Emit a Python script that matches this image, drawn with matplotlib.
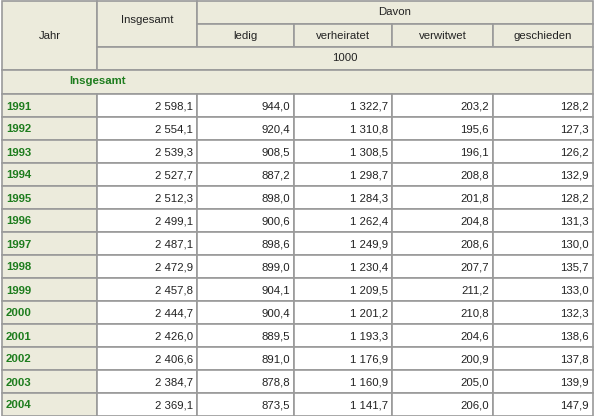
import matplotlib
matplotlib.use("Agg")
import matplotlib.pyplot as plt
from matplotlib.patches import Rectangle

years = ["1991","1992","1993","1994","1995","1996","1997","1998","1999","2000","2001","2002","2003","2004"]
insgesamt = ["2 598,1","2 554,1","2 539,3","2 527,7","2 512,3","2 499,1","2 487,1","2 472,9","2 457,8","2 444,7","2 426,0","2 406,6","2 384,7","2 369,1"]
ledig = ["944,0","920,4","908,5","887,2","898,0","900,6","898,6","899,0","904,1","900,4","889,5","891,0","878,8","873,5"]
verheiratet = ["1 322,7","1 310,8","1 308,5","1 298,7","1 284,3","1 262,4","1 249,9","1 230,4","1 209,5","1 201,2","1 193,3","1 176,9","1 160,9","1 141,7"]
verwitwet = ["203,2","195,6","196,1","208,8","201,8","204,8","208,6","207,7","211,2","210,8","204,6","200,9","205,0","206,0"]
geschieden = ["128,2","127,3","126,2","132,9","128,2","131,3","130,0","135,7","133,0","132,3","138,6","137,8","139,9","147,9"]
sub_headers = ["ledig", "verheiratet", "verwitwet", "geschieden"]

W, H = 596, 416
fig = plt.figure(figsize=(W/100, H/100), dpi=100)
ax = fig.add_axes([0, 0, 1, 1])
ax.set_xlim(0, W); ax.set_ylim(H, 0); ax.axis("off")

BG = "#ecebdc"; EDGE = "#9a9a9a"; GREEN = "#1e7d1e"
cols = [2, 97, 197, 294, 392, 493, 593]

def cell(x0, y0, x1, y1, fc):
    ax.add_patch(Rectangle((x0, y0), x1-x0, y1-y0, facecolor=fc, edgecolor=EDGE, lw=1.2))

def txt(x, y, s, ha="center", color="#222222", bold=False):
    ax.text(x, y, s, ha=ha, va="center", fontsize=8.2, color=color,
            fontweight="bold" if bold else "normal", family="Liberation Sans")

fig.patch.set_facecolor("white")
# header
cell(cols[0], 1, cols[1], 70, BG); txt((cols[0]+cols[1])/2, 36, "Jahr")
cell(cols[1], 1, cols[2], 47, BG); txt((cols[1]+cols[2])/2, 20, "Insgesamt")
cell(cols[2], 1, cols[6], 24, BG); txt((cols[2]+cols[6])/2, 12, "Davon")
for i, h in enumerate(sub_headers):
    cell(cols[2+i], 24, cols[3+i], 47, BG); txt((cols[2+i]+cols[3+i])/2, 36, h)
cell(cols[1], 47, cols[6], 70, BG); txt((cols[1]+cols[6])/2, 58, "1000")
cell(cols[0], 70, cols[6], 94, BG); txt(98, 81, "Insgesamt", color=GREEN, bold=True)

data = [insgesamt, ledig, verheiratet, verwitwet, geschieden]
rh = 23
for r, yr in enumerate(years):
    y0 = 94 + r*rh
    cell(cols[0], y0, cols[1], y0+rh, BG)
    txt(6, y0+rh/2+1, yr, ha="left", color=GREEN, bold=True)
    for c, series in enumerate(data):
        cell(cols[1+c], y0, cols[2+c], y0+rh, "white")
        txt(cols[2+c]-4, y0+rh/2+1, series[r], ha="right")

fig.savefig("out.png", dpi=100)
